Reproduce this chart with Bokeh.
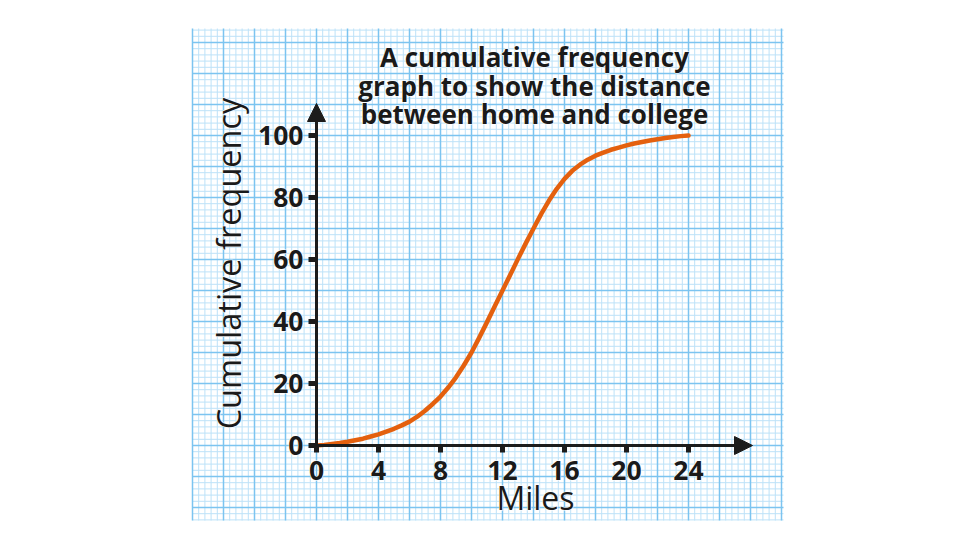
import numpy as np
from bokeh.plotting import figure
from bokeh.models import Range1d, Arrow, NormalHead
from bokeh.core.properties import value
from bokeh.embed import file_html
from bokeh.resources import INLINE

# ---- data ----
miles = [0, 0.5, 1, 1.5, 2, 2.5, 3, 3.5, 4, 4.5, 5, 5.5, 6, 6.5, 7, 7.5, 8, 8.5,
         9, 9.5, 10, 10.5, 11, 11.5, 12, 12.5, 13, 13.5, 14, 14.5, 15, 15.5, 16,
         16.5, 17, 17.5, 18, 18.5, 19, 19.5, 20, 20.5, 21, 21.5, 22, 22.5, 23, 23.5, 24]
cum_freq = [0, 0.2, 0.5, 0.8, 1.2, 1.7, 2.2, 2.9, 3.6, 4.5, 5.4, 6.5, 7.7, 9.3, 11.2,
            13.4, 15.8, 18.7, 22.0, 25.8, 30.0, 34.8, 39.8, 44.9, 50.0, 55.1, 60.2,
            65.2, 70.0, 74.7, 79.0, 82.8, 86.0, 88.6, 90.6, 92.2, 93.5, 94.5, 95.4,
            96.1, 96.8, 97.4, 97.9, 98.4, 98.8, 99.2, 99.5, 99.8, 100]
x_ticks = [0, 4, 8, 12, 16, 20, 24]
y_ticks = [0, 20, 40, 60, 80, 100]
title_lines = ["A cumulative frequency",
               "graph to show the distance",
               "between home and college"]
x_title = "Miles"
y_title = "Cumulative frequency"

# ---- layout (pixel geometry of the page) ----
W, H = 976, 549
X0PX, Y0PX = 316, 445          # pixel position of the origin
PXX, PXY = 15.5, 3.1           # pixels per mile, pixels per frequency unit


def dx(px):
    return px / PXX


def dy(px):
    return px / PXY


p = figure(width=W, height=H, output_backend="svg", toolbar_location=None,
           x_range=Range1d(-X0PX / PXX, (W - X0PX) / PXX),
           y_range=Range1d(-(H - Y0PX) / PXY, Y0PX / PXY),
           min_border=0)
p.axis.visible = False
p.grid.visible = False
p.outline_line_color = None
p.background_fill_color = "white"
p.border_fill_color = "white"

# ---- graph paper ----
gx0, gx1 = dx(192 - X0PX), dx(783 - X0PX)
gy0, gy1 = -dy(520 - Y0PX), dy(Y0PX - 28)
minor_x = np.arange(-8, 30.2, 0.4)
minor_y = np.arange(-24, 134.6, 2.0)
rx = np.mod(np.round(minor_x / 0.4).astype(int), 5) == 0
ry = np.mod(np.round(minor_y / 2.0).astype(int), 5) == 0

MINOR = "#bde2f8"
MAJOR = "#7cc4f0"
mx = minor_x[~rx]
my = minor_y[~ry]
p.segment(x0=mx, y0=gy0, x1=mx, y1=gy1, line_color=MINOR, line_width=1)
p.segment(x0=gx0, y0=my, x1=gx1, y1=my, line_color=MINOR, line_width=1)
Mx = minor_x[rx]
My = minor_y[ry]
p.segment(x0=Mx, y0=gy0, x1=Mx, y1=gy1, line_color=MAJOR, line_width=1.5)
p.segment(x0=gx0, y0=My, x1=gx1, y1=My, line_color=MAJOR, line_width=1.5)

# ---- curve ----
p.line(miles, cum_freq, line_color="#e4600e", line_width=4.5,
       line_join="round", line_cap="round")

# ---- axes ----
AX = "#1c1c1c"
p.add_layout(Arrow(end=NormalHead(size=18, fill_color=AX, line_color=AX, line_width=1),
                   x_start=dx(-6), y_start=0, x_end=dx(752 - X0PX), y_end=0,
                   line_color=AX, line_width=3))
p.add_layout(Arrow(end=NormalHead(size=18, fill_color=AX, line_color=AX, line_width=1),
                   x_start=0, y_start=-dy(6), x_end=0, y_end=dy(Y0PX - 103),
                   line_color=AX, line_width=3))

# ticks
p.segment(x0=x_ticks, y0=0, x1=x_ticks, y1=-dy(7), line_color=AX, line_width=5)
p.segment(x0=0, y0=y_ticks, x1=-dx(8), y1=y_ticks, line_color=AX, line_width=5)

FONT = value("Open Sans")
TXT = "#1a1a1a"


def halo_text(**kw):
    # white halo layer underneath, then the dark text on top
    p.text(text_color="white", text_outline_color="white", **kw)
    p.text(text_color=TXT, **kw)


halo_text(x=x_ticks, y=[-dy(25)] * len(x_ticks), text=[str(t) for t in x_ticks],
          text_font=FONT, text_font_style="bold", text_font_size="26.5px",
          text_align="center", text_baseline="middle")
halo_text(x=[-dx(13)] * len(y_ticks), y=y_ticks, text=[str(t) for t in y_ticks],
          text_font=FONT, text_font_style="bold", text_font_size="26.5px",
          text_align="right", text_baseline="middle")

# axis titles
halo_text(x=[dx(535 - X0PX)], y=[-dy(497 - Y0PX)], text=[x_title],
          text_font=FONT, text_font_size="32px", text_align="center",
          text_baseline="middle")
halo_text(x=[dx(228 - X0PX)], y=[dy(Y0PX - 263)], text=[y_title], angle=np.pi / 2,
          text_font=FONT, text_font_size="32.5px", text_align="center",
          text_baseline="middle")

# chart title
title_base_px = [56, 85, 113]
halo_text(x=[dx(534 - X0PX)] * 3, y=[dy(Y0PX - b) for b in title_base_px], text=title_lines,
          text_font=FONT, text_font_style="bold", text_font_size="26px",
          text_align="center", text_baseline="alphabetic")

open("out.html", "w").write(file_html(p, INLINE))
